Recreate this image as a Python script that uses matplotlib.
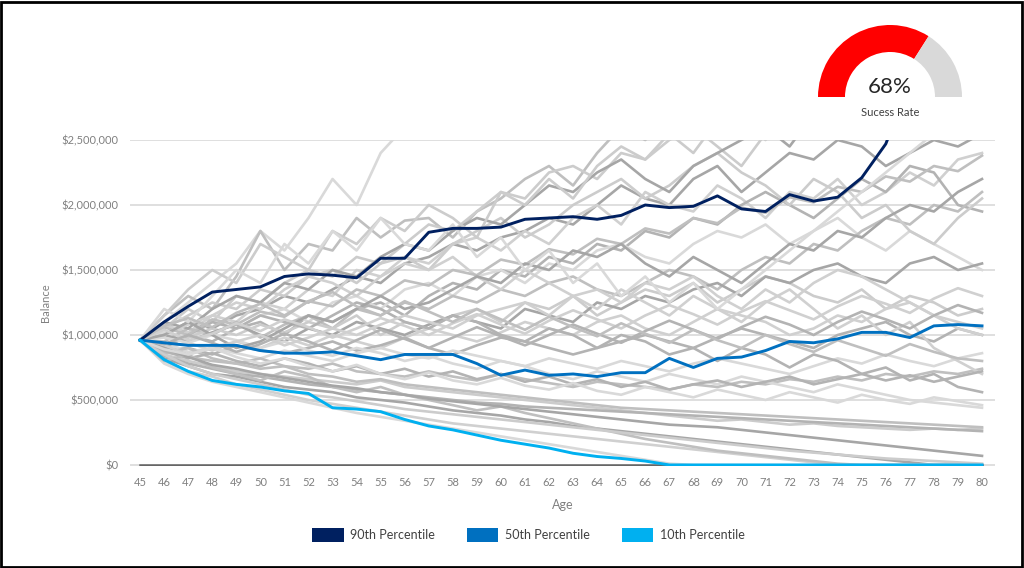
import numpy as np
import matplotlib.pyplot as plt
from matplotlib.patches import Patch, Wedge, Rectangle
from matplotlib.ticker import FuncFormatter

plt.rcParams['font.family'] = ['Lato', 'DejaVu Sans']

ages = list(range(45, 81))

# percentile paths (thousands of $)
p90 = [960, 1100, 1220, 1330, 1350, 1370, 1450, 1470, 1460, 1440, 1590, 1590,
       1790, 1820, 1820, 1830, 1890, 1900, 1910, 1890, 1920, 2000, 1980, 1990,
       2070, 1970, 1950, 2080, 2030, 2060, 2210, 2470, 2950, 3300, 3500, 3800]
p50 = [960, 940, 920, 920, 920, 880, 860, 860, 870, 840, 810, 850,
       850, 850, 780, 690, 730, 690, 700, 680, 710, 710, 820, 750,
       820, 830, 880, 950, 940, 970, 1020, 1020, 980, 1070, 1080, 1070]
p10 = [960, 810, 720, 650, 620, 600, 570, 550, 440, 430, 410, 350,
       300, 270, 230, 190, 160, 130, 90, 65, 50, 30, 0, 0,
       0, 0, 0, 0, 0, 0, 0, 0, 0, 0, 0, 0]

# simulated paths (thousands of $)
sims = [
    [960,1100,1250,1400,1550,1800,1650,1900,2200,2000,2400,2600,2800,2700,2900,3000,3100,3000,3200,3300,3400,3500,3600,3700,3800,3900,4000,4100,4200,4300,4400,4500,4600,4700,4800,4900],
    [960,1150,1300,1200,1450,1800,1500,1700,1650,1900,1750,1880,1900,1750,1950,2050,2200,2300,2150,2400,2600,2500,2700,2600,2800,2900,2700,3000,3100,3000,3200,3300,3400,3300,3500,3600],
    [960,1050,1200,1100,1300,1250,1400,1500,1450,1600,1550,1700,1850,1800,1950,2100,2050,2250,2300,2200,2400,2350,2500,2600,2450,2300,2550,2700,2800,2650,2900,3000,3100,3000,3200,3300],
    [960,1000,1100,1050,1150,1200,1300,1250,1350,1450,1400,1550,1600,1700,1650,1750,1800,1900,1850,2000,2150,2050,2000,2200,2300,2100,2250,2400,2350,2500,2450,2300,2400,2500,2450,2550],
    [960,1080,1020,1150,1100,1250,1200,1350,1300,1500,1450,1600,1550,1700,1750,1650,1800,1700,1900,2000,1850,2100,2000,1950,2150,2050,1900,2100,2050,2200,2000,2100,2250,2150,2350,2400],
    [960,900,1000,950,1050,1100,1000,1150,1100,1200,1250,1150,1300,1400,1350,1500,1450,1600,1550,1700,1650,1800,1750,1900,1850,2000,2100,2000,1900,2050,2200,2100,2300,2250,2000,1950],
    [960,1020,980,1100,1050,1150,1200,1100,1250,1300,1200,1350,1400,1300,1450,1500,1400,1550,1500,1650,1700,1600,1550,1700,1800,1750,1850,1700,1800,1900,1750,1650,1800,1700,1600,1500],
    [960,950,1050,1000,1100,980,1080,1150,1050,1200,1150,1250,1200,1300,1250,1350,1300,1400,1450,1350,1300,1400,1500,1450,1350,1500,1600,1550,1700,1650,1800,1900,1850,2000,1950,2100],
    [960,920,980,1050,1000,1080,1020,1100,1050,1150,1000,1100,1050,1150,1200,1100,1250,1200,1300,1150,1250,1350,1300,1400,1250,1350,1450,1400,1300,1250,1350,1200,1300,1250,1150,1200],
    [960,1000,950,1020,1080,1000,950,1050,1000,1100,1050,1000,1080,1150,1100,1050,1200,1150,1100,1250,1200,1300,1250,1350,1400,1300,1450,1400,1500,1550,1450,1400,1550,1600,1500,1550],
    [960,900,940,880,950,900,980,920,1000,950,900,980,1050,1000,950,1020,1100,1050,1000,1100,1150,1050,1000,1100,1200,1150,1100,1000,1050,1150,1100,1200,1250,1150,1100,1050],
    [960,880,900,850,920,880,860,900,950,880,920,980,900,850,920,980,950,900,850,900,950,1000,950,900,980,1050,1000,950,900,1000,1050,1100,1000,950,1050,1000],
    [960,940,870,900,860,820,880,840,800,860,900,850,820,880,840,800,760,820,780,740,800,760,720,780,820,780,740,700,760,820,780,850,800,760,820,860],
    [960,870,830,800,780,820,760,740,780,720,700,680,720,680,650,700,660,630,600,640,620,600,580,620,600,640,620,660,640,680,650,700,680,720,700,740],
    [960,850,800,760,720,700,680,660,640,620,650,600,580,560,540,520,500,480,460,440,420,400,380,360,340,350,330,310,320,300,290,280,270,280,270,280],
    [960,820,760,700,680,640,600,580,560,520,500,480,450,420,400,380,350,330,300,280,260,240,220,200,180,160,140,120,100,80,60,40,20,0,0,0],
    [960,800,720,680,620,580,540,500,470,440,410,380,350,320,300,280,260,240,220,200,180,160,140,120,100,80,60,40,20,0,0,0,0,0,0,0],
    [960,840,780,740,700,680,650,620,600,580,560,540,520,500,480,470,450,440,430,420,410,400,390,380,370,360,350,340,330,320,310,300,290,280,270,260],
    [960,780,700,640,600,560,520,480,440,400,370,340,310,280,250,220,190,160,130,100,70,40,10,0,0,0,0,0,0,0,0,0,0,0,0,0],
    [960,860,900,820,780,740,760,700,680,640,660,620,600,580,560,540,520,500,480,460,440,430,420,410,400,390,380,370,360,350,340,330,320,310,300,290],
    [960,1050,1150,1250,1200,1350,1300,1450,1500,1400,1550,1600,1500,1700,1800,1900,1750,1850,2000,2100,2200,2050,2150,2300,2400,2250,2150,2000,2200,2100,1900,2000,1800,1700,1900,2050],
    [960,1100,1050,1200,1300,1250,1400,1350,1500,1450,1600,1700,1650,1800,1900,1850,2000,2150,2100,2250,2350,2200,2100,2300,2400,2500,2600,2450,2700,2800,2900,2750,3000,3100,3200,3300],
    [960,1000,1080,1150,1250,1200,1350,1450,1400,1300,1450,1550,1500,1600,1450,1350,1500,1400,1300,1200,1350,1250,1150,1300,1200,1100,1250,1350,1200,1050,1150,1000,1100,900,800,700],
    [960,900,1000,1100,1050,1150,1100,1050,1150,1250,1200,1100,1050,1150,1100,1000,950,1050,1000,900,1000,950,850,900,800,900,850,750,850,800,700,750,650,700,600,560],
    [960,980,940,1000,960,900,950,880,840,900,860,800,840,780,740,800,760,700,660,720,680,640,700,660,620,680,640,600,560,620,580,540,500,480,460,440],
    [960,1060,1000,1120,1080,1180,1140,1260,1220,1350,1300,1420,1380,1500,1460,1580,1540,1660,1620,1740,1700,1820,1780,1900,1860,1980,1940,2060,2020,2140,2100,2220,2180,2300,2260,2380],
    [960,1150,1350,1500,1400,1700,1600,1500,1800,1700,1900,1800,2000,1900,1750,2100,2000,2200,2050,2300,2450,2350,2550,2400,2650,2700,2500,2800,2900,2750,3000,3100,2900,3200,3300,3400],
    [960,1000,1100,1000,900,950,1050,1150,1100,1200,1300,1200,1250,1350,1450,1400,1550,1500,1650,1600,1700,1550,1450,1600,1500,1400,1550,1700,1650,1800,1750,1900,2000,1950,2100,2200],
    [960,920,850,900,950,1000,920,980,1050,1000,1080,1150,1100,1050,1150,1200,1250,1150,1300,1350,1250,1400,1350,1450,1300,1200,1350,1250,1400,1500,1450,1350,1250,1150,1050,1000],
    [960,880,820,860,800,760,820,780,720,760,700,740,680,720,660,700,640,680,620,660,600,640,580,620,650,600,640,680,620,660,700,650,690,640,680,720],
    [960,1200,1100,1300,1500,1400,1700,1550,1800,1650,1900,1700,1650,1850,1600,1750,1500,1650,1400,1550,1300,1450,1250,1400,1200,1350,1500,1650,1800,1950,2100,2250,2400,2550,2700,2850],
    [960,800,850,750,700,650,720,680,600,560,600,540,500,460,420,450,400,360,320,280,240,200,170,140,110,90,70,50,30,10,0,0,0,0,0,0],
    [960,850,760,700,660,620,580,540,520,490,460,430,410,390,370,350,330,310,290,270,250,230,210,190,170,150,130,110,95,80,65,50,40,30,20,10],
    [960,900,830,770,740,700,670,640,610,590,560,540,510,490,470,450,430,410,390,370,350,330,310,300,290,270,250,230,210,190,170,150,130,110,90,70],
    [960,1040,960,1010,1090,1030,1120,1060,980,1050,1130,1070,1000,1090,1160,1080,1010,1110,1190,1120,1050,1150,1230,1160,1080,1180,1260,1190,1120,1220,1300,1240,1170,1280,1360,1300],
    [960,930,1000,940,870,930,1010,950,880,960,1040,970,900,980,1060,990,920,1000,1080,1010,940,1030,1110,1040,970,1060,1140,1080,1000,1100,1180,1120,1050,1150,1230,1170],
    [960,890,850,900,830,780,820,760,720,770,700,660,710,650,620,670,610,580,630,570,540,600,560,520,580,540,500,560,520,480,540,500,470,520,490,460],
    [960,1070,1130,1060,1170,1240,1150,1260,1330,1220,1150,1260,1180,1100,1200,1120,1040,1140,1060,990,1090,1010,940,1040,960,900,1000,930,870,960,900,840,930,870,820,800],
]
grays = ['#d9d9d9', '#bfbfbf', '#cccccc', '#a6a6a6', '#d0d0d0', '#b3b3b3']

success_rate = 68

fig = plt.figure(figsize=(10.24, 5.68), dpi=100)
ax = fig.add_axes([130/1024, (568-466)/568, 865/1024, 326/568])

for i, s in enumerate(sims):
    ax.plot(ages, np.array(s) * 1000, color=grays[i % len(grays)], lw=1.9, zorder=2)
ax.plot(ages, [0]*len(ages), color='#666666', lw=1.8, zorder=3)

ax.plot(ages, np.array(p90) * 1000, color='#002060', lw=2.1, zorder=4)
ax.plot(ages, np.array(p50) * 1000, color='#0070c0', lw=2.1, zorder=4)
ax.plot(ages, np.array(p10) * 1000, color='#00b0f0', lw=2.1, zorder=4)

ax.set_xlim(44.58, 80.54)
ax.set_ylim(-8000, 2500000)
ax.set_xticks(ages)
ax.set_yticks(np.arange(0, 2500001, 500000))
ax.yaxis.set_major_formatter(FuncFormatter(lambda v, p: f'${v:,.0f}'))
ax.grid(axis='y', color='#d9d9d9', lw=1.2, zorder=0)
for sp in ax.spines.values():
    sp.set_visible(False)
ax.tick_params(length=0, colors='#808080', labelsize=8, pad=8)
ax.set_xlabel('Age', color='#808080', fontsize=9, labelpad=8)
ax.set_ylabel('Balance', color='#808080', fontsize=8, labelpad=8)

handles = [Patch(facecolor='#002060', label='90th Percentile'),
           Patch(facecolor='#0070c0', label='50th Percentile'),
           Patch(facecolor='#00b0f0', label='10th Percentile')]
fig.legend(handles=handles, loc='center', bbox_to_anchor=(0.516, 0.058), ncol=3,
           frameon=False, fontsize=9, handlelength=2.5, handleheight=1.3,
           handletextpad=0.5, columnspacing=2.6, labelcolor='#404040')

# gauge
gx = fig.add_axes([810/1024, (568-125)/568, 160/1024, 105/568])
gx.set_xlim(-80, 80)
gx.set_ylim(-28, 77)
gx.axis('off')
split = 180 - success_rate / 100 * 180
gx.add_patch(Wedge((0, 0), 72, split, 180, width=27, color='#ff0000', lw=0))
gx.add_patch(Wedge((0, 0), 72, 0, split, width=27, color='#d9d9d9', lw=0))
gx.text(0, 10, f'{success_rate}%', ha='center', va='center', fontsize=16, color='#262626')
gx.text(0, -16, 'Sucess Rate', ha='center', va='center', fontsize=8, color='#404040')

fig.add_artist(Rectangle((0.001, 0.002), 0.997, 0.995, transform=fig.transFigure,
                         fill=False, edgecolor='black', lw=2))

fig.savefig('out.png', dpi=100)
